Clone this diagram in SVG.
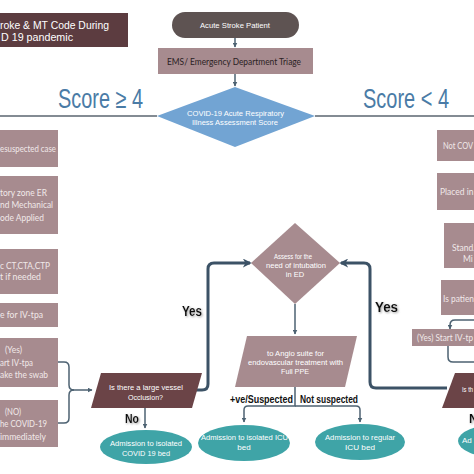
<svg xmlns="http://www.w3.org/2000/svg" width="474" height="474" viewBox="0 0 474 474">
<defs>
<style>
.sans{font-family:"Liberation Sans",Arial,sans-serif}
.cal{font-family:Lato,"Liberation Sans",sans-serif}
.wt{fill:#ffffff}
.lt{fill:#f1e9e9}
.box{fill:#a78b8f}
.dark{fill:#6b4447}
.teal{fill:#3fa4a7}
.thin{fill:none;stroke:#4d6272;stroke-width:1.5}
.thick{fill:none;stroke:#3c5266;stroke-width:3}
.lbl{font-family:"Liberation Sans",Arial,sans-serif;font-weight:bold;fill:#111}
.score{font-family:"Liberation Sans",Arial,sans-serif;fill:#4a7ba6;font-size:27px}
</style>
<marker id="a" viewBox="0 0 10 10" refX="9" refY="5" markerWidth="5" markerHeight="5" orient="auto" markerUnits="userSpaceOnUse"><path d="M0,0 L10,5 L0,10 Z" fill="#4d6272"/></marker>
<marker id="at" viewBox="0 0 10 10" refX="8" refY="5" markerWidth="9" markerHeight="9" orient="auto" markerUnits="userSpaceOnUse"><path d="M0,0 L10,5 L0,10 L3,5 Z" fill="#3c5266"/></marker>
<filter id="sh" x="-20%" y="-20%" width="140%" height="140%"><feDropShadow dx="1" dy="1" stdDeviation="0.8" flood-color="#888" flood-opacity="0.8"/></filter>
</defs>
<rect width="474" height="474" fill="#ffffff"/>

<g id="connectors">
<path class="thin" d="M235,38 V47" marker-end="url(#a)"/>
<path class="thin" d="M235,74 V86" marker-end="url(#a)"/>
<path d="M0,116 H157 M315,116 H474" fill="none" stroke="#5b6670" stroke-width="1.5"/>
<path class="thin" d="M58,362 H64 Q69,362 69,367 V385 Q69,390 74,390 H92" marker-end="url(#a)"/>
<path class="thin" d="M58,423 H64 Q69,423 69,418 V395 Q69,390 74,390"/>
<path class="thin" d="M295,304 V334" marker-end="url(#a)"/>
<path class="thin" d="M295,387 V406 H248 Q244,406 244,410 V422" marker-end="url(#a)"/>
<path class="thin" d="M295,406 H356 Q360,406 360,410 V422" marker-end="url(#a)"/>
<path class="thin" d="M145,408 V428" marker-end="url(#a)"/>
<path class="thin" d="M474,320 H455 Q450,320 450,325 V329" marker-end="url(#a)"/>
<path class="thin" d="M448,346 V357 Q448,362 453,362 H474"/>
<path class="thick" d="M196,390 H202 Q208,390 208,384 V269 Q208,263 214,263 H250" marker-end="url(#at)"/>
<path class="thick" d="M447,388 H376 Q370,388 370,382 V269 Q370,263 364,263 H341" marker-end="url(#at)"/>
</g>

<g id="title">
<rect x="-5" y="13" width="133" height="34" fill="#5c3c40"/>
<text class="sans wt" x="0" y="29" font-size="10.5" textLength="109" lengthAdjust="spacingAndGlyphs">roke &amp; MT Code During</text>
<text class="sans wt" x="1" y="41" font-size="10.5" textLength="72" lengthAdjust="spacingAndGlyphs">D 19 pandemic</text>
</g>

<g id="acute">
<rect x="172" y="12" width="127" height="26" rx="13" fill="#5e5352"/>
<text class="sans wt" x="235" y="28" font-size="8" text-anchor="middle" textLength="70" lengthAdjust="spacingAndGlyphs">Acute Stroke Patient</text>
</g>

<g id="ems">
<rect x="158" y="48" width="155" height="26" class="box"/>
<text class="cal" x="234" y="65" font-size="9" fill="#2b2224" text-anchor="middle" textLength="134" lengthAdjust="spacingAndGlyphs">EMS/ Emergency Department Triage</text>
</g>

<g id="score-diamond">
<polygon points="235,87 315,116 235,147 157,116" fill="#72a4d3"/>
<text class="sans wt" x="235.5" y="116" font-size="8" text-anchor="middle" textLength="97" lengthAdjust="spacingAndGlyphs">COVID-19 Acute Respiratory</text>
<text class="sans wt" x="235" y="125" font-size="8" text-anchor="middle" textLength="86" lengthAdjust="spacingAndGlyphs">Illness Assessment Score</text>
</g>

<g id="score-labels">
<text class="score" x="58" y="108" textLength="85" lengthAdjust="spacingAndGlyphs">Score ≥ 4</text>
<text class="score" x="363" y="108" textLength="86" lengthAdjust="spacingAndGlyphs">Score &lt; 4</text>
</g>

<g id="left1"><rect x="-5" y="130" width="63" height="37" class="box"/>
<text class="cal lt" x="56" y="152" font-size="8.5" text-anchor="end" textLength="56" lengthAdjust="spacingAndGlyphs">esuspected case</text></g>
<g id="left2"><rect x="-5" y="176" width="63" height="58" class="box"/>
<text class="cal lt" x="47" y="196" font-size="8.5" text-anchor="end" textLength="47" lengthAdjust="spacingAndGlyphs">tory zone ER</text>
<text class="cal lt" x="53" y="208" font-size="8.5" text-anchor="end" textLength="53" lengthAdjust="spacingAndGlyphs">nd Mechanical</text>
<text class="cal lt" x="44" y="221" font-size="8.5" text-anchor="end" textLength="44" lengthAdjust="spacingAndGlyphs">ode Applied</text></g>
<g id="left3"><rect x="-5" y="249" width="63" height="45" class="box"/>
<text class="cal lt" x="50" y="269" font-size="8.5" text-anchor="end" textLength="50" lengthAdjust="spacingAndGlyphs">c CT,CTA,CTP</text>
<text class="cal lt" x="41" y="280" font-size="8.5" text-anchor="end" textLength="41" lengthAdjust="spacingAndGlyphs">t if needed</text></g>
<g id="left4"><rect x="-5" y="303" width="63" height="24" class="box"/>
<text class="cal lt" x="43" y="318" font-size="8.5" text-anchor="end" textLength="43" lengthAdjust="spacingAndGlyphs">e for IV-tpa</text></g>
<g id="left5"><rect x="-5" y="338" width="63" height="49" class="box"/>
<text class="cal lt" x="22" y="353" font-size="8.5" text-anchor="end" textLength="17" lengthAdjust="spacingAndGlyphs">(Yes)</text>
<text class="cal lt" x="33" y="366" font-size="8.5" text-anchor="end" textLength="33" lengthAdjust="spacingAndGlyphs">art IV-tpa</text>
<text class="cal lt" x="48" y="378" font-size="8.5" text-anchor="end" textLength="48" lengthAdjust="spacingAndGlyphs">ake the swab</text></g>
<g id="left6"><rect x="-5" y="400" width="63" height="47" class="box"/>
<text class="cal lt" x="21" y="415" font-size="8.5" text-anchor="end" textLength="16" lengthAdjust="spacingAndGlyphs">(NO)</text>
<text class="cal lt" x="47" y="427" font-size="8.5" text-anchor="end" textLength="47" lengthAdjust="spacingAndGlyphs">he COVID-19</text>
<text class="cal lt" x="46" y="440" font-size="8.5" text-anchor="end" textLength="46" lengthAdjust="spacingAndGlyphs">immediately</text></g>

<g id="right1"><rect x="437" y="130" width="40" height="31" class="box"/>
<text class="cal lt" x="443" y="149" font-size="8.5" textLength="30" lengthAdjust="spacingAndGlyphs">Not COV</text></g>
<g id="right2"><rect x="437" y="173" width="40" height="37" class="box"/>
<text class="cal lt" x="440" y="195" font-size="8.5">Placed in</text></g>
<g id="right3"><rect x="444" y="223" width="33" height="45" class="box"/>
<text class="cal lt" x="452" y="251" font-size="8.5">Stand.</text>
<text class="cal lt" x="463" y="262" font-size="8.5">Mi</text></g>
<g id="right4"><rect x="441" y="280" width="36" height="35" class="box"/>
<text class="cal lt" x="443" y="302" font-size="8.5" textLength="31" lengthAdjust="spacingAndGlyphs">Is patien</text></g>
<g id="right5"><rect x="412" y="329" width="65" height="17" class="box"/>
<text class="cal lt" x="417" y="340.5" font-size="8.5" textLength="56" lengthAdjust="spacingAndGlyphs">(Yes) Start IV-tp</text></g>

<g id="assess">
<polygon points="295,223 340,263 295,304 251,263" class="box"/>
<text class="sans wt" x="293" y="259" font-size="7.5" text-anchor="middle" textLength="38" lengthAdjust="spacingAndGlyphs">Assess for the</text>
<text class="sans wt" x="296" y="268" font-size="7.5" text-anchor="middle" textLength="60" lengthAdjust="spacingAndGlyphs">need of intubation</text>
<text class="sans wt" x="295" y="277" font-size="7.5" text-anchor="middle">in ED</text>
</g>

<g id="vessel">
<polygon points="101,373 202,373 192,408 91,408" class="dark"/>
<text class="sans wt" x="146" y="390" font-size="8" text-anchor="middle" textLength="74" lengthAdjust="spacingAndGlyphs">Is there a large vessel</text>
<text class="sans wt" x="145.5" y="400" font-size="8" text-anchor="middle" textLength="35" lengthAdjust="spacingAndGlyphs">Occlusion?</text>
</g>

<g id="angio">
<polygon points="247,336 357,336 345,387 235,387" class="box"/>
<text class="sans wt" x="295.5" y="356" font-size="7.5" text-anchor="middle" textLength="57" lengthAdjust="spacingAndGlyphs">to Angio suite for</text>
<text class="sans wt" x="295.5" y="365" font-size="7.5" text-anchor="middle" textLength="95" lengthAdjust="spacingAndGlyphs">endovascular treatment with</text>
<text class="sans wt" x="295" y="374" font-size="7.5" text-anchor="middle" textLength="28" lengthAdjust="spacingAndGlyphs">Full PPE</text>
</g>

<g id="vessel-right">
<polygon points="455,373 480,373 480,408 442,408" class="dark"/>
<text class="sans wt" x="462" y="392" font-size="8" textLength="11" lengthAdjust="spacingAndGlyphs">Is th</text>
</g>

<g id="bed-covid">
<ellipse cx="146" cy="447" rx="46" ry="17" class="teal"/>
<text class="sans wt" x="146" y="446" font-size="8" text-anchor="middle" textLength="72" lengthAdjust="spacingAndGlyphs">Admission to isolated</text>
<text class="sans wt" x="146" y="456" font-size="8" text-anchor="middle" textLength="48" lengthAdjust="spacingAndGlyphs">COVID 19 bed</text>
</g>
<g id="bed-icu-iso">
<ellipse cx="244" cy="443" rx="46" ry="18" class="teal"/>
<text class="sans wt" x="244.5" y="440" font-size="8" text-anchor="middle" textLength="87" lengthAdjust="spacingAndGlyphs">Admission to isolated ICU</text>
<text class="sans wt" x="244" y="450" font-size="8" text-anchor="middle">bed</text>
</g>
<g id="bed-icu-reg">
<ellipse cx="360" cy="442" rx="45" ry="18" class="teal"/>
<text class="sans wt" x="360" y="440" font-size="8" text-anchor="middle" textLength="70" lengthAdjust="spacingAndGlyphs">Admission to regular</text>
<text class="sans wt" x="360" y="450" font-size="8" text-anchor="middle" textLength="30" lengthAdjust="spacingAndGlyphs">ICU bed</text>
</g>
<g id="bed-right">
<ellipse cx="500" cy="441" rx="42" ry="17" class="teal"/>
<text class="sans wt" x="462" y="443" font-size="8">Ad</text>
</g>

<g id="labels">
<text class="lbl" x="182" y="316" font-size="14" textLength="20" lengthAdjust="spacingAndGlyphs" filter="url(#sh)">Yes</text>
<text class="lbl" x="375" y="312" font-size="14" textLength="23" lengthAdjust="spacingAndGlyphs" filter="url(#sh)">Yes</text>
<text class="lbl" x="125" y="423" font-size="12.5" textLength="14" lengthAdjust="spacingAndGlyphs" filter="url(#sh)">No</text>
<text class="lbl" x="469" y="423" font-size="12.5" filter="url(#sh)">N</text>
<text class="lbl" x="230" y="403" font-size="10" textLength="63" lengthAdjust="spacingAndGlyphs">+ve/Suspected</text>
<text class="lbl" x="300" y="403" font-size="10" textLength="58" lengthAdjust="spacingAndGlyphs">Not suspected</text>
</g>
</svg>
